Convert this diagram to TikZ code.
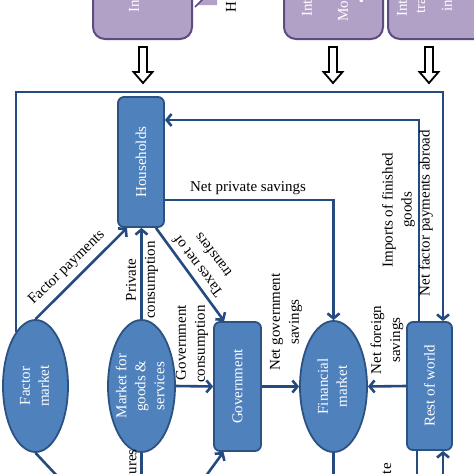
\documentclass[tikz,border=0pt]{standalone}
\usepackage{fontspec}
\setmainfont{Liberation Serif}
\usetikzlibrary{arrows.meta,shapes.geometric,calc}
\definecolor{boxblue}{RGB}{79,129,189}
\definecolor{boxedge}{RGB}{44,82,130}
\definecolor{connblue}{RGB}{36,74,128}
\definecolor{purfill}{RGB}{178,161,199}
\definecolor{puredge}{RGB}{94,75,130}
\newcommand\rtx[1]{\rotatebox{90}{\begin{tabular}{@{}c@{}}#1\end{tabular}}}
\begin{document}
\begin{tikzpicture}[x=1pt,y=-1pt,
  every node/.style={font=\fontsize{15}{19}\selectfont},
  blbox/.style={draw=boxedge, line width=1.8pt, fill=boxblue, rounded corners=6pt, text=white, inner sep=0pt},
  blell/.style={ellipse, draw=boxedge, line width=1.8pt, fill=boxblue, inner sep=0pt},
  wlab/.style={text=white, inner sep=0pt},
  conn/.style={draw=connblue, line width=2.6pt},
  arr/.style={conn, -{Straight Barb[length=5pt,width=12pt]}},
  lbl/.style={text=black, align=center, inner sep=0pt},
  frag/.style={inner sep=0pt, rotate=90},
  purbox/.style={draw=puredge, line width=2pt, fill=purfill, rounded corners=12pt},
  hollow/.style={draw=black, line width=1.8pt, fill=white}
]
\useasboundingbox (0,0) rectangle (474,474);
\fill[white] (0,0) rectangle (474,474);

% top purple boxes (cut off)
\draw[purbox] (93,-60) rectangle (192,39);
\draw[purbox] (284,-60) rectangle (383,39);
\draw[purbox] (388,-60) rectangle (520,39);
\fill[purfill] (197,5) -- (204,-3) -- (217,-3) -- (217,5) -- cycle;
\draw[puredge, line width=1.5pt] (195,7) -- (204,-2);
\node[frag, text=white, anchor=west] (p1a) at (134,13) {In};
\node[frag, text=black, anchor=west] (p1b) at (231,13) {H};
\node[frag, text=white, anchor=west] (p2a) at (307,17) {Int};
\node[frag, text=white, anchor=west] (p2b) at (343,22) {Mo};
\node[frag, text=white, anchor=west] (p2c) at (363,4) {•};
\node[frag, text=white, anchor=west] (p3a) at (402,17) {Int};
\node[frag, text=white, anchor=west] (p3b) at (421,14) {tra};
\node[frag, text=white, anchor=west] (p3c) at (447,12) {in};

% hollow down arrows
\foreach \ax in {143,333,429}{
  \draw[hollow] (\ax-4,47) -- (\ax+4,47) -- (\ax+4,72) -- (\ax+9.5,72) -- (\ax,83) -- (\ax-9.5,72) -- (\ax-4,72) -- cycle;
}

% nodes
\node[blbox, minimum width=46pt, minimum height=130pt] (hh) at (141,162) {\rotatebox{90}{Households}};
\node[blbox, minimum width=47pt, minimum height=129pt] (gov) at (237.5,386.5) {\rotatebox{90}{Government}};
\node[blbox, minimum width=45pt, minimum height=128pt] (row) at (429.5,386) {\rotatebox{90}{Rest of world}};
\node[blell, minimum width=65pt, minimum height=132pt, label={[wlab]center:\rtx{Factor\\market}}] (fm) at (35.5,386) {};
\node[blell, minimum width=67pt, minimum height=132pt, label={[wlab]center:\rtx{Market for\\goods \&\\services}}] (mg) at (141.5,386) {};
\node[blell, minimum width=67pt, minimum height=131pt, label={[wlab]center:\rtx{Financial\\market}}] (fin) at (333.5,386.5) {};

% connectors
\draw[arr] (fm.110) |- (443,92) -- ([xshift=13.5pt]row.north);
\draw[arr] ([xshift=-10.5pt]row.north) |- ([yshift=42pt]hh.east);
\draw[arr] ([yshift=-38pt]hh.east) -| (fin.north);
\draw[arr] (fm.north) -- ([xshift=-14pt]hh.south);
\draw[arr] (mg.north) -- (mg.north |- hh.south);
\draw[arr] ([xshift=-9pt]hh.south east) -- ([xshift=11pt]gov.north west);
\draw[arr] (mg.east) -- (gov.west);
\draw[arr] (gov.east) -- (fin.west);
\draw[arr] (row.west) -- (fin.east);

% stubs running off the bottom
\coordinate (b1) at (59,478);
\coordinate (b2) at (141.5,480);
\coordinate (b3) at (203,480);
\coordinate (b4) at (333.5,480);
\coordinate (b5) at (417,480);
\coordinate (b6) at (443,480);
\draw[conn] (fm.south) -- (b1);
\draw[conn] (mg.south) -- (b2);
\draw[arr] (b3) -- ([xshift=-14pt]gov.south);
\draw[conn] (fin.south) -- (b4);
\draw[conn] ([xshift=-12.5pt]row.south) -- (b5);
\draw[arr] (b6) -- ([xshift=13.5pt]row.south);

% labels
\node[lbl, rotate=44] (lfp) at (67,268) {Factor payments};
\node[lbl, rotate=90] (lpc) at (142,280) {Private\\consumption};
\node[lbl, rotate=127] (ltx) at (205,261) {Taxes net of\\transfers};
\node[lbl] (lnps) at (248,188) {Net private savings};
\node[lbl, rotate=90, align=right] (lgc) at (192,344) {Government\\consumption};
\node[lbl, rotate=90] (lngs) at (286,322) {Net government\\savings};
\node[lbl, rotate=90] (lnfs) at (387,340) {Net foreign\\savings};
\node[lbl, rotate=90] (limp) at (398.5,210) {Imports of finished\\goods};
\node[lbl, rotate=90] (lnfp) at (426,213) {Net factor payments abroad};
\node[frag, text=black, anchor=east] (lur) at (133,449) {ures};
\node[frag, text=black, anchor=east] (lte) at (387,463) {te};
\end{tikzpicture}
\end{document}
